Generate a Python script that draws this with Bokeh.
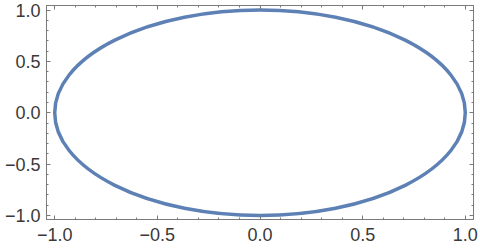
from bokeh.plotting import figure
from bokeh.models import LinearAxis, FixedTicker, CustomJSTickFormatter, Range1d, ColumnDataSource
from bokeh.embed import file_html
from bokeh.resources import INLINE

# data: a unit circle (center and diameters in data units)
center_x = [0.0]
center_y = [0.0]
diam_x = [2.0]
diam_y = [2.0]

major_ticks = [-1.0, -0.5, 0.0, 0.5, 1.0]
minor_ticks = [round(-1.0 + 0.1 * i, 1) for i in range(21)]

FRAME = "#7a7a7a"
LABEL = "#3a3a3a"
LINE = "#5e81b5"

p = figure(width=480, height=250, frame_width=427, frame_height=214,
           x_range=Range1d(-1.04, 1.04), y_range=Range1d(-1.04, 1.045),
           output_backend="svg", toolbar_location=None,
           x_axis_location=None, y_axis_location=None,
           min_border_left=46, min_border_right=7, min_border_top=5, min_border_bottom=31)
p.xgrid.visible = False
p.ygrid.visible = False
p.outline_line_color = FRAME
p.outline_line_width = 1
p.background_fill_color = "white"
p.border_fill_color = "white"

fmt = CustomJSTickFormatter(code="""
return (tick < -1e-9 ? "\\u2212" : "") + Math.abs(tick).toFixed(1);
""")
blank = CustomJSTickFormatter(code='return "";')

def style(ax, labels):
    ax.ticker = FixedTicker(ticks=major_ticks, minor_ticks=minor_ticks)
    ax.axis_line_color = FRAME
    ax.major_tick_line_color = FRAME
    ax.minor_tick_line_color = FRAME
    ax.major_tick_in = 4
    ax.major_tick_out = 0
    ax.minor_tick_in = 2
    ax.minor_tick_out = 0
    ax.major_label_text_font = "Liberation Sans"
    ax.major_label_text_font_size = "18px"
    ax.major_label_text_color = LABEL
    if labels:
        ax.formatter = fmt
    else:
        ax.formatter = blank
        ax.major_label_standoff = 0

bx = LinearAxis(); style(bx, True); bx.major_label_standoff = 8
lx = LinearAxis(); style(lx, True); lx.major_label_standoff = 6
tx = LinearAxis(); style(tx, False)
rx = LinearAxis(); style(rx, False)
p.add_layout(bx, "below")
p.add_layout(lx, "left")
p.add_layout(tx, "above")
p.add_layout(rx, "right")

src = ColumnDataSource(dict(x=center_x, y=center_y, w=diam_x, h=diam_y))
p.ellipse(x="x", y="y", width="w", height="h", source=src,
          fill_alpha=0, line_color=LINE, line_width=3.5)

open("out.html", "w").write(file_html(p, INLINE))
